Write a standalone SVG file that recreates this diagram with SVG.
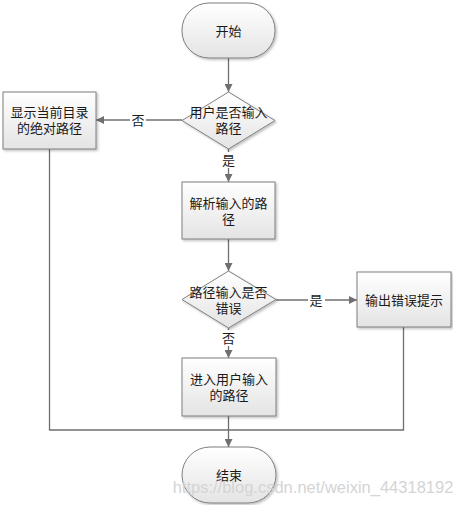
<svg xmlns="http://www.w3.org/2000/svg" width="453" height="505" viewBox="0 0 453 505">
<defs>
<linearGradient id="g" x1="0" y1="0" x2="0" y2="1">
<stop offset="0" stop-color="#ffffff"/>
<stop offset="1" stop-color="#e4e4e4"/>
</linearGradient>
<filter id="sh" x="-10%" y="-10%" width="130%" height="130%">
<feDropShadow dx="1.5" dy="1.5" stdDeviation="0.8" flood-color="#000" flood-opacity="0.25"/>
</filter>
<marker id="ar" viewBox="0 0 10 10" refX="10" refY="5" markerWidth="8" markerHeight="8" markerUnits="userSpaceOnUse" orient="auto">
<path d="M0,0 L10,5 L0,10 z" fill="#6f6f6f"/>
</marker>
</defs>
<style>
.n{fill:url(#g);stroke:#7f7f7f;stroke-width:1;filter:url(#sh)}
.t{font-family:"Noto Sans CJK SC","Liberation Sans",sans-serif;font-size:13px;fill:#1a1a1a;text-anchor:middle}
.c{fill:none;stroke:#6f6f6f;stroke-width:1.3}
.wm{font-family:"Liberation Sans",sans-serif;font-size:16.5px;fill:#d4d4d4;text-anchor:middle}
</style>
<rect width="453" height="505" fill="#ffffff"/>
<g id="connectors">
<path class="c" d="M228.5,58 V92" marker-end="url(#ar)"/>
<path class="c" d="M182,120 H96" marker-end="url(#ar)"/>
<path class="c" d="M228.5,149 V182" marker-end="url(#ar)"/>
<path class="c" d="M228.5,239 V271" marker-end="url(#ar)"/>
<path class="c" d="M276,300 H357" marker-end="url(#ar)"/>
<path class="c" d="M228.5,328 V358" marker-end="url(#ar)"/>
<path class="c" d="M228.5,416 V447" marker-end="url(#ar)"/>
<path class="c" d="M49.5,149 V430 H228.5"/>
<path class="c" d="M403.5,327 V430 H228.5"/>
<rect x="130" y="112" width="16" height="16" fill="#fff"/>
<text class="t" x="138" y="124.5">否</text>
<rect x="220" y="152" width="17" height="16" fill="#fff"/>
<text class="t" x="228.5" y="164.5">是</text>
<rect x="308" y="292" width="17" height="16" fill="#fff"/>
<text class="t" x="316" y="304.5">是</text>
<rect x="220" y="330" width="17" height="16" fill="#fff"/>
<text class="t" x="228.5" y="342.5">否</text>
</g>
<g id="start">
<rect class="n" x="182" y="3" width="93" height="55" rx="27" ry="27"/>
<text class="t" x="228.5" y="35.5">开始</text>
</g>
<g id="decision1">
<polygon class="n" points="228.5,92 275,120.5 228.5,149 182,120.5"/>
<text class="t" x="228.5" y="116.5">用户是否输入<tspan x="228.5" dy="16">路径</tspan></text>
</g>
<g id="showAbs">
<rect class="n" x="3" y="92" width="93" height="57"/>
<text class="t" x="49.5" y="116.5">显示当前目录<tspan x="49.5" dy="16">的绝对路径</tspan></text>
</g>
<g id="parse">
<rect class="n" x="182" y="182" width="93" height="57"/>
<text class="t" x="228.5" y="207.5">解析输入的路<tspan x="228.5" dy="16">径</tspan></text>
</g>
<g id="decision2">
<polygon class="n" points="228.5,271 276,299.5 228.5,328 182,299.5"/>
<text class="t" x="228.5" y="296.5">路径输入是否<tspan x="228.5" dy="16">错误</tspan></text>
</g>
<g id="error">
<rect class="n" x="357" y="272" width="94" height="55"/>
<text class="t" x="404" y="304.5">输出错误提示</text>
</g>
<g id="enter">
<rect class="n" x="182" y="358" width="94" height="58"/>
<text class="t" x="229" y="383.5">进入用户输入<tspan x="229" dy="16">的路径</tspan></text>
</g>
<g id="end">
<rect class="n" x="182" y="447" width="94" height="56" rx="28" ry="28"/>
<text class="t" x="229" y="479.5">结束</text>
</g>
<text class="wm" x="313" y="493">https://blog.csdn.net/weixin_44318192</text>
</svg>
